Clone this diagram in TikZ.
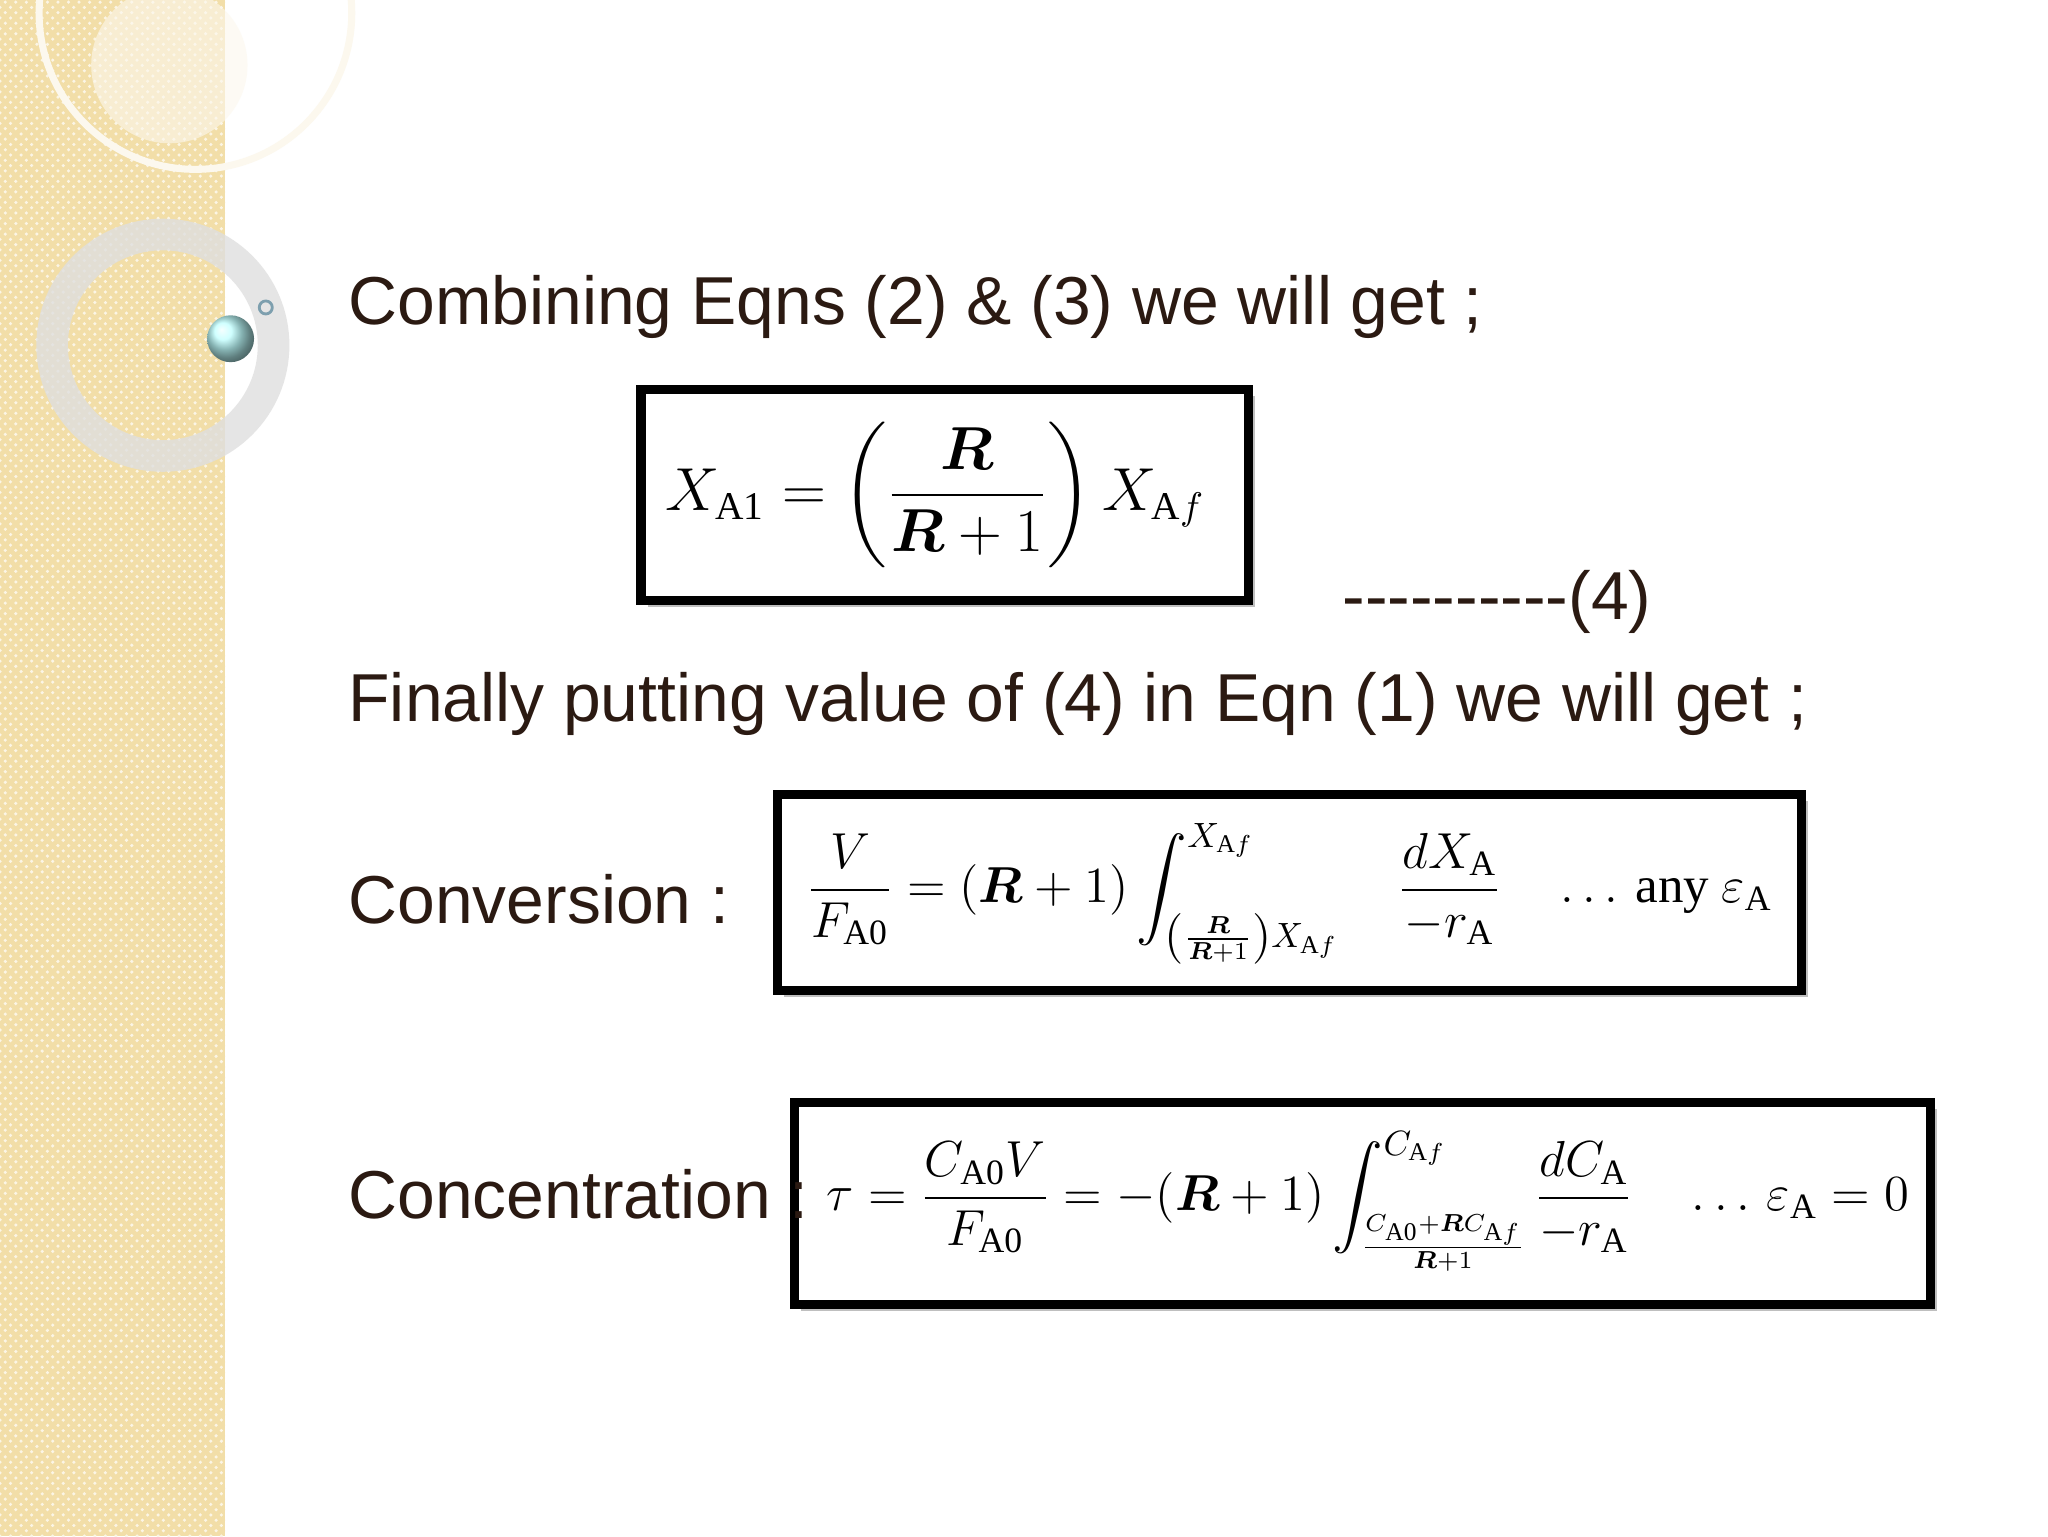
\documentclass[tikz,border=0pt]{standalone}
\usepackage{amsmath}
\usepackage{fontspec}
\setmainfont{Liberation Sans}
\newfontfamily\serifeq{Liberation Serif}
\newcommand\mr[1]{\text{\serifeq #1}}
\usetikzlibrary{patterns}
\definecolor{txt}{HTML}{2B1A12}
\definecolor{stripe}{HTML}{F2DEA8}
\tikzset{
 slidetext/.style={anchor=west,text=txt,font=\fontsize{19.3}{23}\selectfont,inner sep=0},
 eqbox/.style={draw=black,line width=2.6pt,fill=white},
 shadow/.style={fill=black!25,draw=none},
 eqtext/.style={font=\fontsize{14.5}{17}\selectfont,inner sep=0}
}
\begin{document}
\begin{tikzpicture}[x=0.01303cm,y=-0.01303cm]
\useasboundingbox (0,0) rectangle (1572,1179);
\fill[white] (0,0) rectangle (1572,1179);
\fill[stripe] (0,0) rectangle (173,1179);
\fill[pattern=crosshatch dots,pattern color=white!70!stripe] (0,0) rectangle (173,1179);
\draw[white!80!stripe,line width=2pt] (150,10) circle[radius=120];
\draw[white!75!gray,line width=9pt,opacity=0.8] (125,265) circle[radius=85];
\fill[white!80!stripe,opacity=0.6] (130,50) circle[radius=60];
\shade[ball color=cyan!25] (177,260) circle[radius=18];
\draw[gray!70!cyan,line width=0.8pt] (204,236) circle[radius=5];

\node[slidetext] (t1) at (267,236) {Combining Eqns (2) \& (3) we will get ;};
\fill[shadow] (497,304) rectangle (963,466);
\draw[eqbox] (492,299) rectangle (958,461);
\node[eqtext,font=\fontsize{16}{19}\selectfont] (e1) at (718,380) {$X_{\mr{A1}}=\left(\dfrac{\boldsymbol{R}}{\boldsymbol{R}+1}\right)X_{\mr{A}f}$};
\node[slidetext] (t4) at (1030,462) {-{}-{}-{}-{}-{}-{}-{}-{}-{}-(4)};
\node[slidetext] (t2) at (267,540) {Finally putting value of (4) in Eqn (1) we will get ;};
\node[slidetext] (t3) at (267,690) {Conversion :};
\fill[shadow] (602,615) rectangle (1388,765);
\draw[eqbox] (597,610) rectangle (1383,760);
\node[eqtext] (e2) at (990,686) {$\dfrac{V}{F_{\mr{A0}}}=(\boldsymbol{R}+1)\displaystyle\int_{\left(\frac{\boldsymbol{R}}{\boldsymbol{R}+1}\right)X_{\mr{A}f}}^{X_{\mr{A}f}}\quad\frac{dX_{\mr{A}}}{-r_{\mr{A}}}\quad\ldots\,\mr{any }\varepsilon_{\mr{A}}$};
\fill[shadow] (615,851) rectangle (1487,1006);
\draw[eqbox] (610,846) rectangle (1482,1001);
\node[slidetext] (t5) at (267,917) {Concentration :};
\node[eqtext] (e3) at (1050,922) {$\tau=\dfrac{C_{\mr{A0}}V}{F_{\mr{A0}}}=-(\boldsymbol{R}+1)\displaystyle\int_{\frac{C_{\mr{A0}}+\boldsymbol{R}C_{\mr{A}f}}{\boldsymbol{R}+1}}^{C_{\mr{A}f}}\frac{dC_{\mr{A}}}{-r_{\mr{A}}}\quad\ldots\,\varepsilon_{\mr{A}}=0$};
\end{tikzpicture}
\end{document}
